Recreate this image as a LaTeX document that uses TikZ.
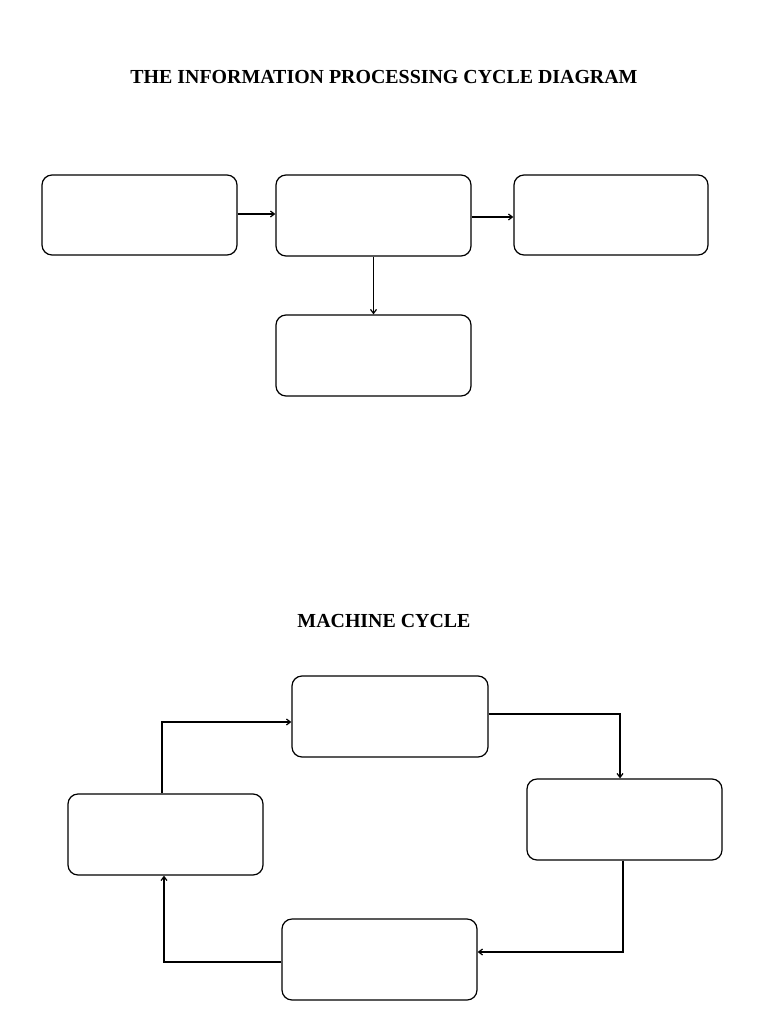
\documentclass[tikz,border=0pt]{standalone}
\usepackage{fontspec}
\setmainfont{Liberation Serif}
\usetikzlibrary{arrows.meta}
\begin{document}
\begin{tikzpicture}[x=1pt,y=-1pt,
  box/.style={draw,line width=1.2pt,rounded corners=10pt},
  conn/.style={line width=1.2pt,-{Straight Barb[length=4pt,width=6pt]}},
  ttl/.style={font=\bfseries\fontsize{19.9}{22}\selectfont}]
\useasboundingbox (0,0) rectangle (768,1024);
\node[ttl] (t1) at (384,77) {THE INFORMATION PROCESSING CYCLE DIAGRAM};
\node[ttl] (t2) at (384,621) {MACHINE CYCLE};
\node[box,minimum width=195pt,minimum height=80pt] (A) at (139.5,215) {};
\node[box,minimum width=195pt,minimum height=81pt] (B) at (373.5,215.5) {};
\node[box,minimum width=194pt,minimum height=80pt] (C) at (611,215) {};
\node[box,minimum width=195pt,minimum height=81pt] (D) at (373.5,355.5) {};
\draw[conn] (A.east|-0,214) -- (B.west|-0,214);
\draw[conn] (B.east|-0,217) -- (C.west|-0,217);
\draw[conn] (B.south) -- (D.north);
\node[box,minimum width=196pt,minimum height=81pt] (E) at (390,716.5) {};
\node[box,minimum width=195pt,minimum height=81pt] (F) at (624.5,819.5) {};
\node[box,minimum width=195pt,minimum height=81pt] (G) at (379.5,959.5) {};
\node[box,minimum width=195pt,minimum height=81pt] (H) at (165.5,834.5) {};
\draw[conn] (E.east|-0,714) -| (620,0|-F.north);
\draw[conn] (623,0|-F.south) |- (G.east|-0,952);
\draw[conn] (G.west|-0,962) -| (164,0|-H.south);
\draw[conn] (162,0|-H.north) |- (E.west|-0,722);
\end{tikzpicture}
\end{document}
